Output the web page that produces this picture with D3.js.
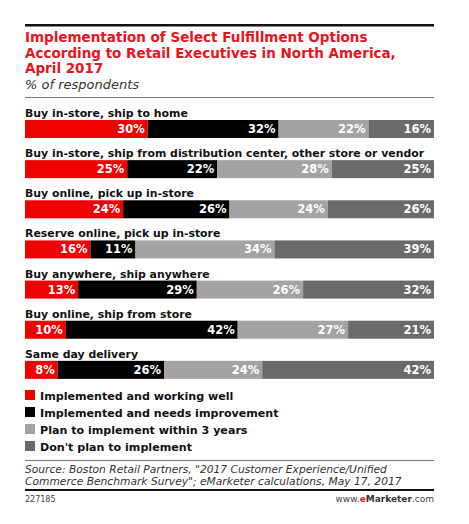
<html>
<head>
    <title>Fulfillment Options</title>
    <style>
        body{
            margin: 0;
            background: #fff;
        }
        text{
            font-family: "DejaVu Sans", Verdana, sans-serif;
        }
    </style>
</head>
<body>
    <script src="https://d3js.org/d3.v7.min.js"></script>
    <svg></svg>
    <script>

    // data
    var categories = [
        "Buy in-store, ship to home",
        "Buy in-store, ship from distribution center, other store or vendor",
        "Buy online, pick up in-store",
        "Reserve online, pick up in-store",
        "Buy anywhere, ship anywhere",
        "Buy online, ship from store",
        "Same day delivery"
    ];
    var implementedWell = [30, 25, 24, 16, 13, 10, 8];
    var needsImprovement = [32, 22, 26, 11, 29, 42, 26];
    var planWithin3 = [22, 28, 24, 34, 26, 27, 24];
    var dontPlan = [16, 25, 26, 39, 32, 21, 42];
    var seriesNames = [
        "Implemented and working well",
        "Implemented and needs improvement",
        "Plan to implement within 3 years",
        "Don't plan to implement"
    ];
    var colors = ["#f00000", "#000000", "#a3a3a3", "#6a6a6a"];

    let width = 469;
    let height = 524;
    var left = 25, right = 434;

    let svg = d3.select("svg")
        .attr("width", width)
        .attr("height", height);

    // build rows for the stack
    var rows = categories.map(function(c, i){
        return {cat: c, s0: implementedWell[i], s1: needsImprovement[i], s2: planWithin3[i], s3: dontPlan[i]};
    });
    var keys = ["s0", "s1", "s2", "s3"];
    var stacked = d3.stack().keys(keys)(rows);

    var x = d3.scaleLinear().domain([0, 100]).range([left, right]);
    var y = d3.scaleBand().domain(categories).range([100, 381]);

    // header
    svg.append("rect").attr("x", left).attr("y", 24).attr("width", right - left).attr("height", 2.5).style("fill", "#111");

    var titleLines = ["Implementation of Select Fulfillment Options",
                      "According to Retail Executives in North America,",
                      "April 2017"];
    svg.selectAll(".title")
        .data(titleLines)
        .enter().append("text")
        .attr("class", "title")
        .attr("x", left)
        .attr("y", (d, i) => 42 + i * 15.5)
        .style("font-size", "13.5px")
        .style("font-weight", "bold")
        .style("fill", "#e8141c")
        .text(d => d);

    svg.append("text")
        .attr("x", left).attr("y", 89)
        .style("font-size", "13px")
        .style("font-style", "italic")
        .style("fill", "#333")
        .text("% of respondents");

    svg.append("rect").attr("x", left).attr("y", 97).attr("width", right - left).attr("height", 0.8).style("fill", "#555");

    // category labels
    svg.selectAll(".cat")
        .data(categories)
        .enter().append("text")
        .attr("class", "cat")
        .attr("x", left)
        .attr("y", d => y(d) + 17)
        .style("font-size", "10.9px")
        .style("font-weight", "bold")
        .style("fill", "#111")
        .text(d => d);

    // bars
    var layer = svg.selectAll(".layer")
        .data(stacked)
        .enter().append("g")
        .attr("class", "layer")
        .style("fill", (d, i) => colors[i]);

    layer.selectAll("rect")
        .data(d => d)
        .enter().append("rect")
        .attr("x", d => x(d[0]))
        .attr("y", d => y(d.data.cat) + 20)
        .attr("width", d => x(d[1]) - x(d[0]))
        .attr("height", 18);

    layer.selectAll(".val")
        .data(d => d)
        .enter().append("text")
        .attr("class", "val")
        .attr("x", d => x(d[1]) - 3)
        .attr("y", d => y(d.data.cat) + 33)
        .attr("text-anchor", "end")
        .style("font-size", "11.5px")
        .style("font-weight", "bold")
        .style("fill", "#fff")
        .text(d => (d[1] - d[0]) + "%");

    // legend
    var legend = svg.selectAll(".legend")
        .data(seriesNames)
        .enter().append("g")
        .attr("class", "legend")
        .attr("transform", (d, i) => "translate(" + left + "," + (390 + i * 17) + ")");

    legend.append("rect")
        .attr("width", 10).attr("height", 10)
        .style("fill", (d, i) => colors[i]);

    legend.append("text")
        .attr("x", 15).attr("y", 9.5)
        .style("font-size", "11.1px")
        .style("font-weight", "bold")
        .style("fill", "#111")
        .text(d => d);

    // footer
    svg.append("rect").attr("x", left).attr("y", 460).attr("width", right - left).attr("height", 0.8).style("fill", "#555");

    var sourceLines = ["Source: Boston Retail Partners, \"2017 Customer Experience/Unified",
                       "Commerce Benchmark Survey\"; eMarketer calculations, May 17, 2017"];
    svg.selectAll(".source")
        .data(sourceLines)
        .enter().append("text")
        .attr("class", "source")
        .attr("x", left)
        .attr("y", (d, i) => 473 + i * 12)
        .style("font-size", "10.7px")
        .style("font-style", "italic")
        .style("fill", "#333")
        .text(d => d);

    svg.append("rect").attr("x", left).attr("y", 489).attr("width", right - left).attr("height", 2).style("fill", "#111");

    svg.append("text")
        .attr("x", left).attr("y", 502)
        .style("font-size", "8px")
        .style("fill", "#444")
        .text("227185");

    var site = svg.append("text")
        .attr("x", right).attr("y", 502)
        .attr("text-anchor", "end")
        .style("font-size", "9px")
        .style("fill", "#444");
    site.append("tspan").text("www.");
    site.append("tspan").style("fill", "#e8141c").style("font-weight", "bold").text("e");
    site.append("tspan").style("font-weight", "bold").style("fill", "#333").text("Marketer");
    site.append("tspan").text(".com");

    </script>
</body>
</html>
